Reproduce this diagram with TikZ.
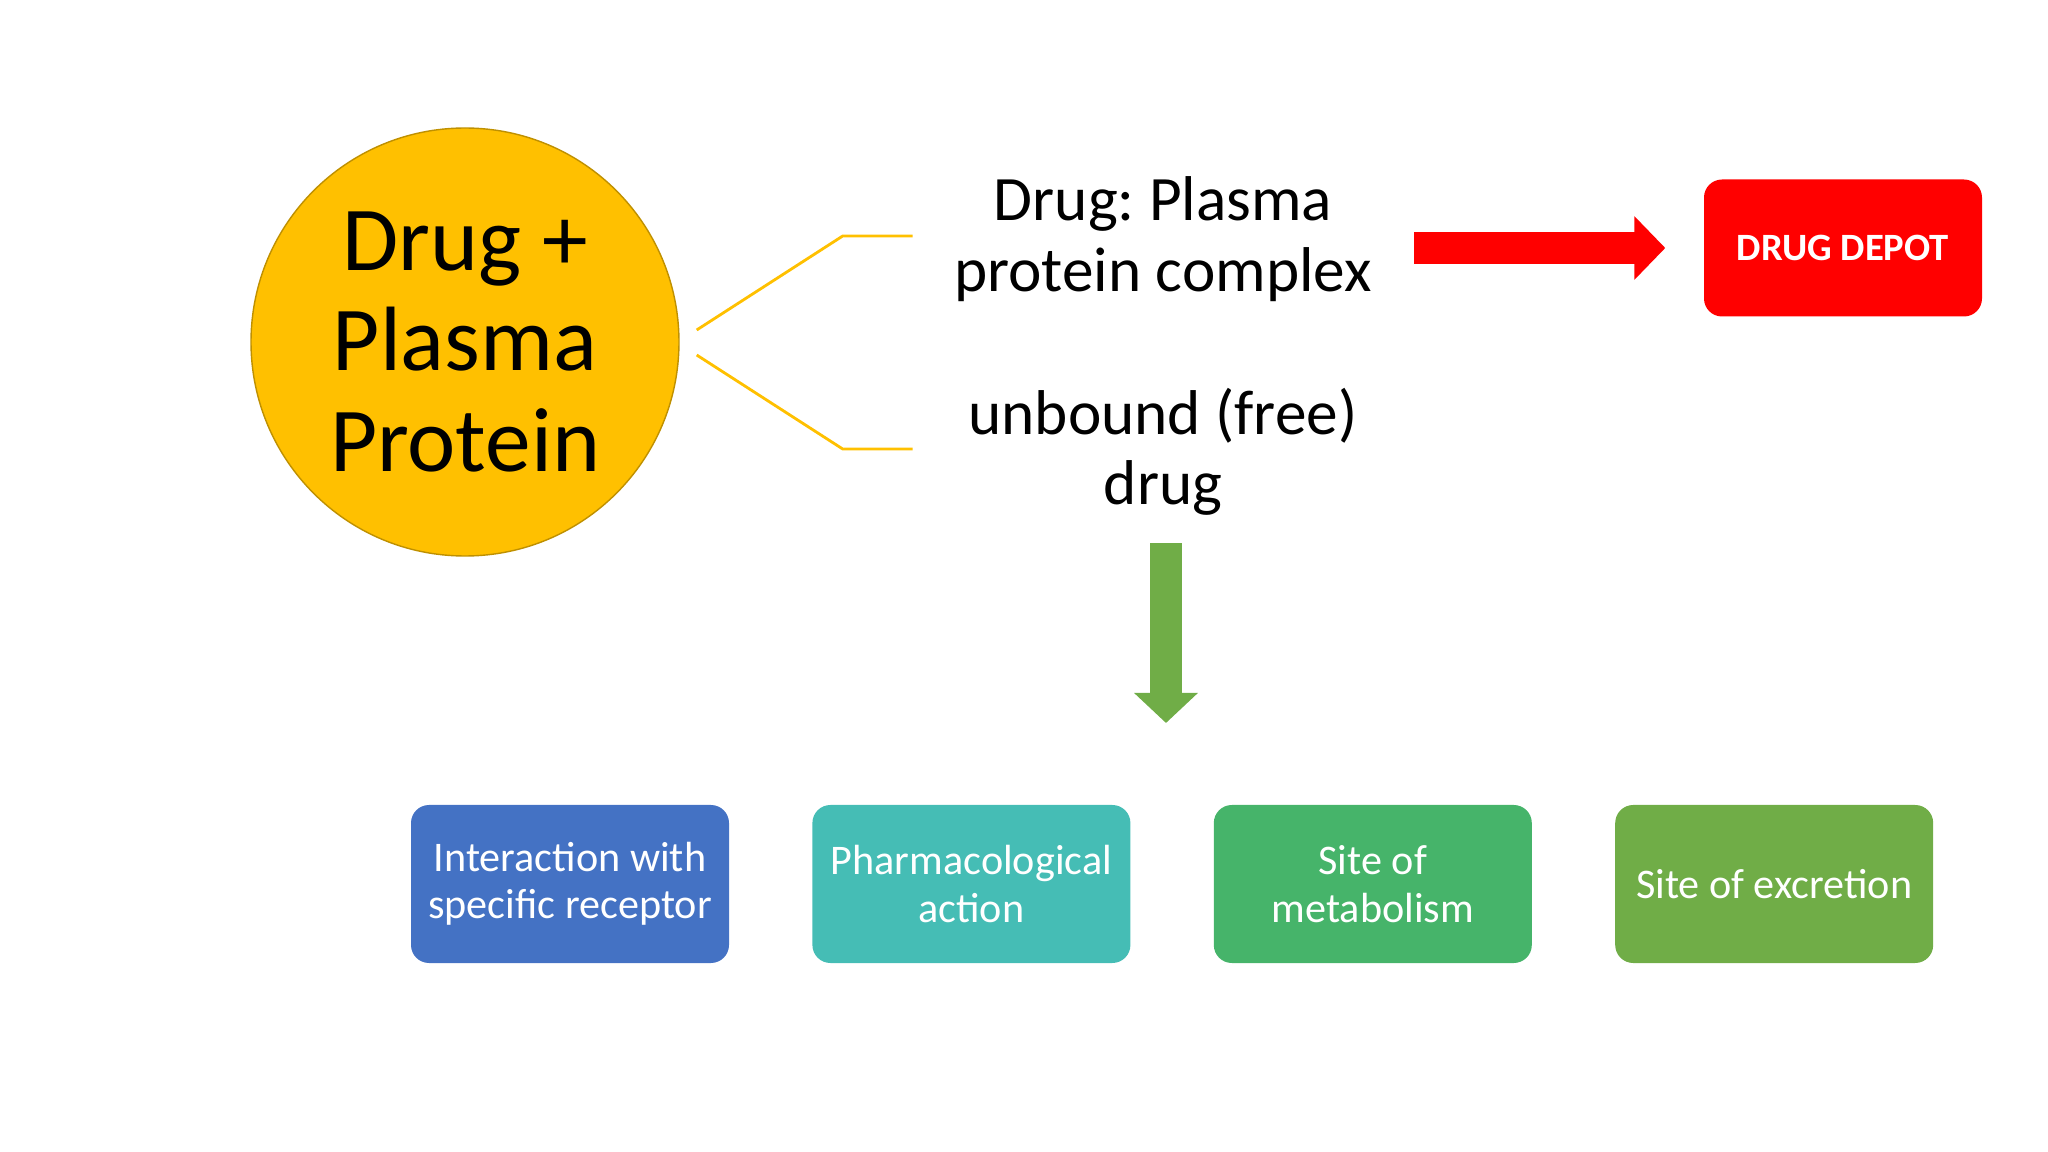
\documentclass[tikz,border=0pt]{standalone}
\usepackage{fontspec}
\setmainfont{Carlito}
\usetikzlibrary{arrows.meta,positioning,calc}
\definecolor{goldfill}{RGB}{255,192,0}
\definecolor{golddraw}{RGB}{191,144,0}
\definecolor{depotred}{RGB}{255,0,0}
\definecolor{arrowgreen}{RGB}{112,173,71}
\definecolor{boxblue}{RGB}{68,114,196}
\definecolor{boxteal}{RGB}{69,189,181}
\definecolor{boxgreen}{RGB}{70,180,106}
\definecolor{boxolive}{RGB}{112,173,71}
\frenchspacing

\begin{document}
\begin{tikzpicture}[node distance=8.2mm,every node/.style={align=center},
 effect/.style={rounded corners=1.8mm,minimum width=31.8mm,minimum height=15.8mm,text=white,font=\fontsize{12}{13.5}\selectfont},
 bracket/.style={goldfill,line width=0.8pt}]
\useasboundingbox (0,0) rectangle (20.48,-11.52);
\node[circle,draw=golddraw,fill=goldfill,minimum size=42.8mm,font=\fontsize{26}{28.5}\selectfont] (mix) at (4.65,-3.42) {Drug +\\Plasma\\Protein};
\node[inner sep=0pt,font=\fontsize{18}{20}\selectfont] (complex) at (11.63,-2.39) {Drug: Plasma\\protein complex};
\node[inner sep=0pt,font=\fontsize{18}{20}\selectfont] (free) at (11.63,-4.52) {unbound (free)\\drug};
\node[rounded corners=1.8mm,fill=depotred,text=white,minimum width=27.8mm,minimum height=13.7mm,font=\bfseries\fontsize{11}{13}\selectfont] (depot) at (18.43,-2.48) {DRUG DEPOT};
\coordinate (fanout) at (11.66,-7.23);
\node[effect,fill=boxblue] (receptor) at (5.70,-8.84) {Interaction with\\specific receptor};
\node[effect,fill=boxteal,right=of receptor] (action) {Pharmacological\\action};
\node[effect,fill=boxgreen,right=of action] (metab) {Site of\\metabolism};
\node[effect,fill=boxolive,right=of metab] (excr) {Site of excretion};
\draw[bracket] ($(mix.east)+(0.17,0.12)$) -- ++(1.46,0.94) -- ++(0.70,0);
\draw[bracket] ($(mix.east)+(0.17,-0.13)$) -- ++(1.46,-0.94) -- ++(0.70,0);
\draw[-{Triangle[width=6.2mm,length=3.1mm]},line width=3.2mm,depotred,shorten <=4.2mm,shorten >=3.8mm] (complex.east |- depot.west) -- (depot.west);
\draw[-{Triangle[width=6.2mm,length=3mm]},line width=3.2mm,arrowgreen,shorten <=2.7mm] (free.south -| fanout) -- (fanout);
\end{tikzpicture}
\end{document}
